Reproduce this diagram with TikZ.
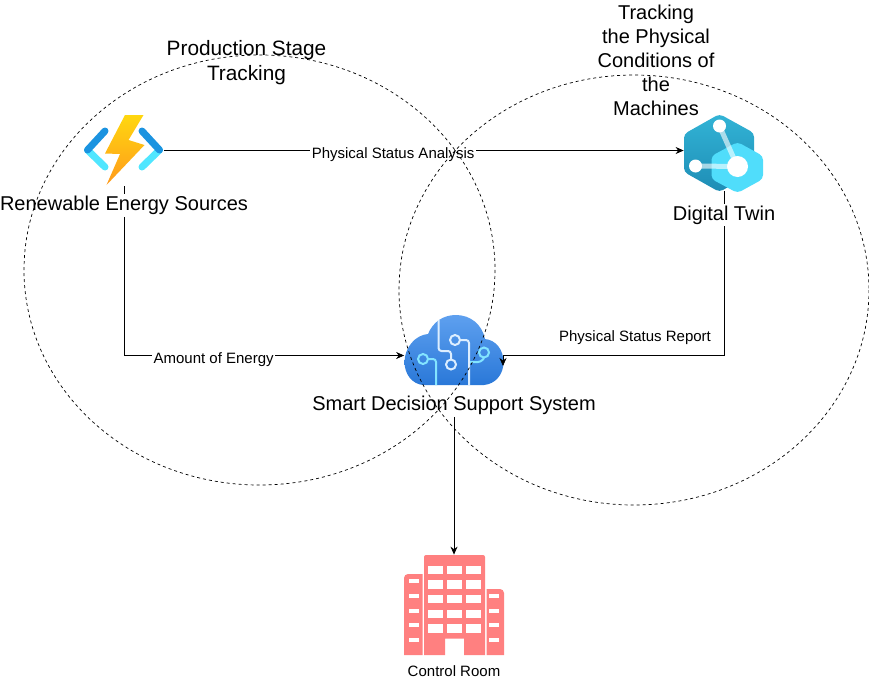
\documentclass[tikz,border=0pt]{standalone}
\usepackage{fontspec}
\setmainfont{Liberation Sans}
\usetikzlibrary{arrows.meta,positioning}

\definecolor{roomred}{HTML}{FF8080}
\definecolor{boltyellow}{HTML}{FFD70F}
\definecolor{boltorange}{HTML}{FF9A1C}
\definecolor{codeblue}{HTML}{1B93E0}
\definecolor{codecyan}{HTML}{50E6FF}
\definecolor{twintop}{HTML}{32B4D6}
\definecolor{twinbottom}{HTML}{1E8DB5}
\definecolor{twinlight}{HTML}{50DDFB}
\definecolor{cloudtop}{HTML}{5EA0EF}
\definecolor{cloudbottom}{HTML}{2A78D8}
\definecolor{wirewhite}{HTML}{DCEEFF}
\definecolor{wirecyan}{HTML}{83E4FF}

\begin{document}
\begin{tikzpicture}[
    x = 1pt, y = -1pt, % reference pixels
    > = {Stealth[length=8pt,width=7pt]}, % arrow head style
    line width = 0.75pt,
    icon/.style = {inner sep = 0pt, minimum width = #1},
    big/.style = {font = \fontsize{20}{24}\selectfont, align = center},
    small/.style = {font = \fontsize{15}{18}\selectfont, align = center},
    cover/.style = {fill = white, inner sep = 1.5pt},
    zone/.style = {draw = black, dash pattern = on 3pt off 3pt, line width = 0.7pt}
    ]

    \useasboundingbox (0,0) rectangle (869,680);

    % invisible anchors of the icons
    \node[icon=79pt, minimum height=71pt] (res) at (124,150.5) {};
    \node[icon=80pt, minimum height=76pt] (twin) at (724,153) {};
    \node[icon=99pt, minimum height=70pt] (dss) at (454,350) {};
    \node[icon=100pt, minimum height=100pt] (room) at (454,605) {};
    \coordinate (dssin) at (503,366);

    % renewable icon
    \draw[codecyan, line width=7pt, line cap=round] (87.5,150) -- (105,167);
    \draw[codeblue, line width=7pt, line cap=round] (105,131) -- (87.5,150);
    \draw[codecyan, line width=7pt, line cap=round] (159.5,150) -- (142,167);
    \draw[codeblue, line width=7pt, line cap=round] (142,131) -- (159.5,150);
    \shade[top color=boltyellow, bottom color=boltorange] (125,115) -- (143.5,115) -- (128.5,140) -- (144.5,145) -- (106.5,185) -- (120,154) -- (105,153.5) -- cycle;

    % digital twin icon
    \shade[top color=twintop, bottom color=twinbottom, rounded corners=4pt] (719.5,114) -- (754,133) -- (754,172) -- (719.5,192) -- (684,172) -- (684,134) -- cycle;
    \fill[twinlight, rounded corners=4pt] (737.5,142) -- (763,156) -- (763,179) -- (737.5,193) -- (711.5,179) -- (711.5,156) -- cycle;
    \draw[white, opacity=0.6, line width=5pt] (719.5,126) -- (737.5,166.5) -- (695.5,166);
    \fill[white] (719.5,126) circle [radius=6.5];
    \fill[white] (695.5,166) circle [radius=6.5];
    \fill[white] (737.5,166.5) circle [radius=10.5];

    % decision system icon
    \shade[top color=cloudtop, bottom color=cloudbottom] (423,385) .. controls (412,384) and (404.5,374) .. (404.5,362) .. controls (404.5,348) and (415,335) .. (428,334) .. controls (433,322) and (443,315) .. (456,315) .. controls (470,315) and (482,324) .. (485,339) .. controls (496,340) and (503.5,350) .. (503.5,362) .. controls (503.5,375) and (495,384) .. (484,385) -- cycle;
    \draw[wirewhite, line width=2pt, rounded corners=3pt] (438.5,320) -- (438.5,351) -- (451,351) -- (451,359);
    \draw[wirewhite, line width=2pt] (451,364.5) circle [radius=5];
    \draw[wirewhite, line width=2pt, rounded corners=3pt] (460,340) -- (469,340) -- (469,385);
    \draw[wirewhite, line width=2pt] (455,340) circle [radius=5];
    \draw[wirecyan, line width=2pt, rounded corners=3pt] (428,359) -- (436,359) -- (436,385);
    \draw[wirecyan, line width=2pt] (423,359) circle [radius=5];
    \draw[wirecyan, line width=2pt, rounded corners=3pt] (470,362) -- (481,362) -- (484,358);
    \draw[wirecyan, line width=2pt] (484,352.5) circle [radius=5];

    % control room icon
    \fill[roomred] (424,655) [rounded corners=2pt] -- (424,555) -- (485,555) [sharp corners] -- (485,655) -- (464,655) -- (464,638.5) -- (445,638.5) -- (445,655) -- cycle;
    \fill[roomred] (404,655) [rounded corners=4pt] -- (404,574) [sharp corners] -- (422.5,574) -- (422.5,655) -- cycle;
    \fill[roomred] (486.5,655) -- (486.5,589) [rounded corners=4pt] -- (504,589) [sharp corners] -- (504,655) -- cycle;
    \foreach \rowy in {565.7,580.3,595,609.7,624.3}
        \foreach \colx in {428.3,447.3,466}
            \fill[white] (\colx,\rowy) rectangle ++(14.5,8.3);
    \foreach \rowy in {579.3,594,608.7,623.3,638}
        \fill[white] (409,\rowy) rectangle ++(10,4);
    \foreach \rowy in {594,608.7,623.3,638}
        \fill[white] (489.3,\rowy) rectangle ++(10,4);

    % labels that hide the connectors
    \node[big, cover, below=5pt of res, yshift=-3pt] (reslabel) {Renewable Energy Sources};
    \node[big, cover, below=12.5pt of twin] (twinlabel) {Digital Twin};
    \node[big, cover, below=9pt of dss] (dsslabel) {Smart Decision Support System};

    % connectors
    \draw[->] (res.east) -- node[small, cover, pos=0.441, yshift=-4pt] (statuslabel) {Physical Status Analysis} (res.east -| twin.west);
    \draw (res.south) -- (reslabel.north);
    \draw[->] (reslabel.south) |- node[small, cover, pos=0.66, yshift=-4.5pt] (energylabel) {Amount of Energy} (dss.west |- 0,355.5);
    \draw (twin.south) -- (twinlabel.north);
    \draw[->] (twinlabel.south) |- (dssin |- 0,355.5) -- (dssin);
    \draw[->] (dsslabel.south) -- (room.north);

    % remaining labels
    \node[small, below=7pt of room] (roomlabel) {Control Room};
    \node[small] (reportlabel) at (635,338) {Physical Status Report};
    \node[font=\fontsize{20.8}{25}\selectfont, align=center] (prodlabel) at (246.5,63) {Production Stage\\Tracking};
    \node[big] (machlabel) at (656,60) {Tracking\\the Physical\\Conditions of\\the\\Machines};

    % the two zones
    \draw[zone] (259.5,270) ellipse [x radius=235.5, y radius=215];
    \draw[zone] (634,290) ellipse [x radius=235, y radius=215];

\end{tikzpicture}
\end{document}
